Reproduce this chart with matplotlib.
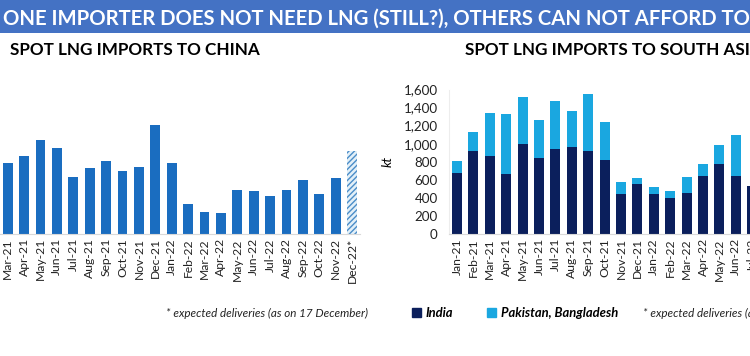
import matplotlib.pyplot as plt
from matplotlib.patches import Rectangle, Patch

plt.rcParams['font.family'] = ['Lato', 'DejaVu Sans']

# China spot LNG imports (kt), Mar-21 .. Dec-22 (Dec-22 = expected)
china_months = ['Mar-21', 'Apr-21', 'May-21', 'Jun-21', 'Jul-21', 'Aug-21', 'Sep-21',
                'Oct-21', 'Nov-21', 'Dec-21', 'Jan-22', 'Feb-22', 'Mar-22', 'Apr-22',
                'May-22', 'Jun-22', 'Jul-22', 'Aug-22', 'Sep-22', 'Oct-22', 'Nov-22', 'Dec-22*']
china_vals = [782, 867, 1041, 948, 627, 734, 808, 694, 742, 1207, 782,
              332, 240, 229, 487, 480, 417, 491, 601, 439, 616, 923]

# South Asia spot LNG imports (kt)
sa_months = ['Jan-21', 'Feb-21', 'Mar-21', 'Apr-21', 'May-21', 'Jun-21', 'Jul-21',
             'Aug-21', 'Sep-21', 'Oct-21', 'Nov-21', 'Dec-21', 'Jan-22', 'Feb-22',
             'Mar-22', 'Apr-22', 'May-22', 'Jun-22', 'Jul-22']
india = [679, 923, 867, 661, 993, 845, 937, 959, 923, 819, 443, 557, 443, 402,
         450, 642, 779, 646, 531]
total = [808, 1133, 1336, 1325, 1513, 1262, 1472, 1362, 1546, 1240, 572, 624, 520, 476,
         635, 775, 982, 1100, 531]
pak_bgd = [t - i for t, i in zip(total, india)]

W, H = 750, 356
fig = plt.figure(figsize=(7.5, 3.56), dpi=100)

# title banner
fig.patches.append(Rectangle((0, 1 - 33 / H), 1, 33 / H, transform=fig.transFigure,
                             facecolor='#4472C4', edgecolor='none', zorder=0))
fig.text(376 / W, 1 - 19 / H, 'ONE IMPORTER DOES NOT NEED LNG (STILL?), OTHERS CAN NOT AFFORD TO',
         ha='center', va='center', color='white', fontsize=14.6, fontweight='bold')

fig.text(10 / W, 1 - 50 / H, 'SPOT LNG IMPORTS TO CHINA', ha='left', va='center',
         fontsize=12.3, fontweight='bold')
fig.text(465 / W, 1 - 50 / H, 'SPOT LNG IMPORTS TO SOUTH ASIA', ha='left', va='center',
         fontsize=12.3, fontweight='bold')

bottom = (H - 234) / H
height = (234 - 89.5) / H
step = 16.4

# China panel (y axis is cut off on the left)
ax1 = fig.add_axes([(7.7 - 2.5 * step) / W, bottom, 24 * step / W, height])
x1 = range(len(china_months))
ax1.bar(x1[:-1], china_vals[:-1], width=0.6, color='#1A6DC0')
ax1.bar(x1[-1], china_vals[-1], width=0.6, facecolor='#E3F0F8', edgecolor='#4B8DC8',
        hatch='//////', linewidth=0)
ax1.set_xlim(-2.5, 21.5)
ax1.set_ylim(0, 1600)
ax1.set_xticks(list(x1))
ax1.set_xticklabels(china_months, rotation=90, fontsize=8.7, color='#222222')
ax1.tick_params(length=0, pad=3)
ax1.set_yticks([])
for s in ['top', 'right', 'left']:
    ax1.spines[s].set_visible(False)
ax1.spines['bottom'].set_color('#D9D9D9')

# South Asia panel (cut off on the right)
ax2 = fig.add_axes([(457 - step / 2) / W, bottom, 24 * step / W, height])
x2 = range(len(sa_months))
ax2.bar(x2, india, width=0.6, color='#0B1F5C', label='India')
ax2.bar(x2, pak_bgd, width=0.6, bottom=india, color='#1AA7E0', label='Pakistan, Bangladesh')
ax2.set_xlim(-0.5, 23.5)
ax2.set_ylim(0, 1600)
ax2.set_xticks(list(x2))
ax2.set_xticklabels(sa_months, rotation=90, fontsize=8.7, color='#222222')
ax2.set_yticks(range(0, 1601, 200))
ax2.set_yticklabels([f'{v:,}' for v in range(0, 1601, 200)], fontsize=9.6, color='#222222')
ax2.tick_params(axis='x', length=0, pad=3)
ax2.tick_params(axis='y', length=0, pad=8)
ax2.set_ylabel('kt', fontstyle='italic', fontsize=9.6, labelpad=7)
for s in ['top', 'right']:
    ax2.spines[s].set_visible(False)
ax2.spines['bottom'].set_color('#D9D9D9')
ax2.spines['left'].set_color('#EDEDED')

# footnotes and legend
fig.text(368 / W, 1 - 313 / H, '* expected deliveries (as on 17 December)', ha='right',
         va='center', fontsize=8.4, fontstyle='italic', color='#222222')
fig.text(643 / W, 1 - 313 / H, '* expected deliveries (as on 17 December)', ha='left',
         va='center', fontsize=8.4, fontstyle='italic', color='#222222')
handles = [Patch(color='#0B1F5C', label='India'),
           Patch(color='#1AA7E0', label='Pakistan, Bangladesh')]
fig.legend(handles=handles, loc='center left', bbox_to_anchor=(400 / W, 1 - 313 / H),
           ncol=2, frameon=False, handlelength=0.7, handleheight=0.7, handletextpad=0.35,
           columnspacing=2.6, prop={'weight': 'bold', 'style': 'italic', 'size': 9.4})

fig.savefig('out.png', dpi=100)
